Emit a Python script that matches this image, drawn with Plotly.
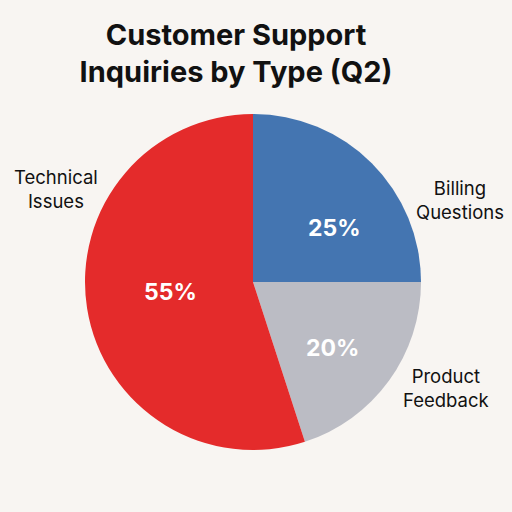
import plotly.graph_objects as go

categories = ["Billing Questions", "Product Feedback", "Technical Issues"]
shares = [25, 20, 55]
slice_colors = ["#4475B1", "#BBBCC4", "#E42B2B"]

# outside labels and percent texts, placed by hand like the reference (paper coords)
label_text = ["Billing<br>Questions", "Product<br>Feedback", "Technical<br>Issues"]
label_pos = [(1.116, 0.745), (1.074, 0.185), (-0.086, 0.776)]
pct_pos = [(0.744, 0.661), (0.738, 0.304), (0.253, 0.470)]

fig = go.Figure(go.Pie(
    labels=categories,
    values=shares,
    sort=False,
    direction="clockwise",
    rotation=0,
    marker=dict(colors=slice_colors, line=dict(width=0)),
    textinfo="none",
    showlegend=False,
))

for txt, (x, y) in zip(label_text, label_pos):
    fig.add_annotation(
        text=txt, x=x, y=y, xref="paper", yref="paper",
        showarrow=False, xanchor="center", yanchor="middle",
        font=dict(size=18.5, color="#111111", family="Inter"),
    )

for v, (x, y) in zip(shares, pct_pos):
    fig.add_annotation(
        text=f"<b>{v}%</b>", x=x, y=y, xref="paper", yref="paper",
        showarrow=False, xanchor="center", yanchor="middle",
        font=dict(size=23, color="white", family="Inter"),
    )

fig.update_layout(
    width=512, height=512,
    margin=dict(l=85, r=91, t=114, b=62),
    paper_bgcolor="#F8F5F2",
    plot_bgcolor="#F8F5F2",
    title=dict(
        text="<b>Customer Support<br>Inquiries by Type (Q2)</b>",
        x=0.461, xanchor="center", xref="container",
        y=0.913, yanchor="top", yref="container",
        font=dict(size=29, color="#111111", family="Inter"),
    ),
)

fig.write_html(
    "out.html",
    config={"displayModeBar": False},
    post_script="document.body.style.margin='0';document.body.style.background='#F8F5F2';",
)
